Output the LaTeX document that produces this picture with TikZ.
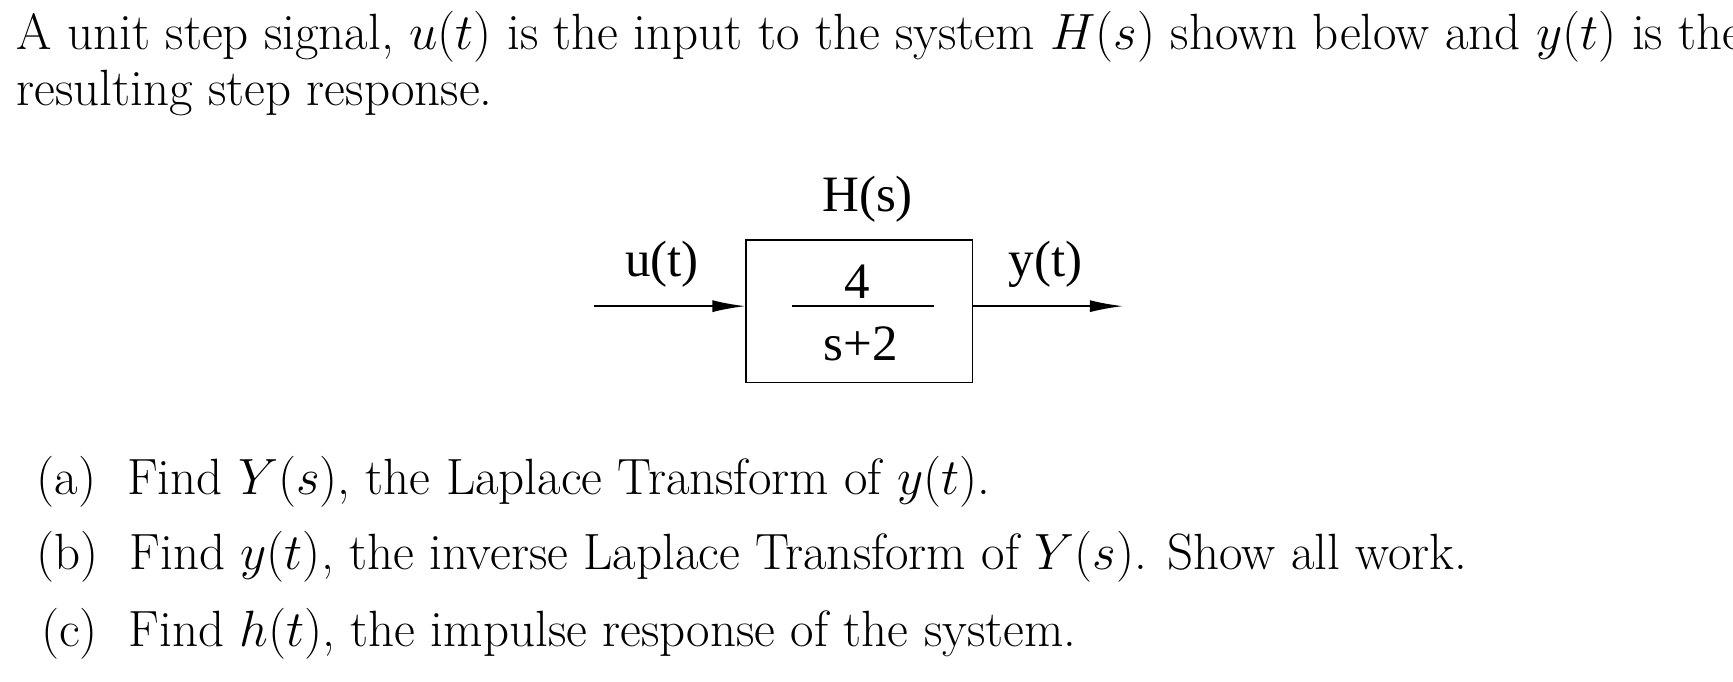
\RequirePackage{fix-cm}
\documentclass[tikz,border=0pt]{standalone}
\usepackage{fontspec}
\newfontfamily\timesf{Liberation Serif}
\usetikzlibrary{arrows.meta,fit}
\begin{document}
\begin{tikzpicture}[x=1.105pt,y=-1.105pt,
  txt/.style={anchor=base west,inner sep=0pt,font=\fontsize{51}{60}\selectfont},
  lab/.style={inner sep=0pt,font=\timesf\fontsize{51}{58}\selectfont},
  sig/.style={line width=1.7pt,-{Latex[length=33pt,width=12pt]}}]
\useasboundingbox (0,0) rectangle (1568,617);
\node[txt] (l1) at (15,45) {A unit step signal, $u(t)$ is the input to the system $H(s)$ shown below and $y(t)$ is the};
\node[txt] (l2) at (15,95) {resulting step response.};
\node[lab] (H) at (785,180) {H(s)};
\coordinate (b1) at (675,217); \coordinate (b2) at (880,346);
\node[draw,line width=1.4pt,inner sep=0pt,fit=(b1)(b2)] (box) {};
\node[lab] (num) at (776,255) {4};
\node[lab] (den) at (779,311) {s+2};
\coordinate (f1) at (717,277); \coordinate (f2) at (845,277);
\draw[line width=1.4pt] (f1) -- (f2);
\coordinate (in) at (537,277); \coordinate (out) at (1016,277);
\draw[sig] (in) -- (box.west|-in);
\draw[sig] (box.east|-out) -- (out);
\node[lab] (u) at (599,239) {u(t)};
\node[lab] (y) at (946,239) {y(t)};
\node[txt] (a) at (33,447) {(a)\ \ Find $Y(s)$, the Laplace Transform of $y(t)$.};
\node[txt] (b) at (33,515) {(b)\ \ Find $y(t)$, the inverse Laplace Transform of $Y(s)$. Show all work.};
\node[txt] (c) at (37,585) {(c)\ \ Find $h(t)$, the impulse response of the system.};
\end{tikzpicture}
\end{document}
